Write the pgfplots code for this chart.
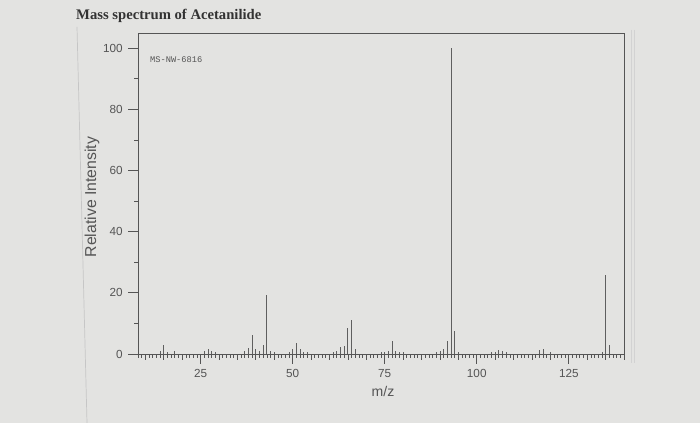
\documentclass[border=0pt]{standalone}
\usepackage{fontspec}
\setmainfont{Liberation Sans}
\newfontfamily\titlefont{Liberation Serif}
\newfontfamily\monofont{Liberation Mono}
\usepackage{pgfplots}
\pgfplotsset{compat=1.18}
\definecolor{bg}{RGB}{227,227,225}
\definecolor{ink}{RGB}{85,85,85}
\definecolor{peak}{RGB}{95,95,95}
\begin{document}
\begin{tikzpicture}
\begin{scope}[x=0.03cm,y=0.03cm]
\fill[bg] (0,0) rectangle (700,423);
\useasboundingbox (0,0) rectangle (700,423);
\draw[gray!45,line width=0.6pt] (77,396) -- (87,0);
\draw[gray!35,line width=0.5pt] (631,393) -- (631,60);
\draw[gray!35,line width=0.5pt] (634,393) -- (634,60);
\end{scope}
\begin{axis}[
  at={(4.14cm,2.07cm)}, anchor=south west,
  scale only axis, width=14.58cm, height=9.63cm,
  xmin=8, xmax=140, ymin=0, ymax=105,
  axis line style={ink, line width=0.8pt},
  every tick/.style={ink, line width=0.6pt},
  tick align=outside,
  xtick={25,50,75,100,125},
  minor xtick={8,...,140},
  extra x ticks={10,15,20,30,35,40,45,55,60,65,70,80,85,90,95,105,110,115,120,130,135,140},
  extra x tick labels={},
  extra x tick style={major tick length=0.18cm},
  ytick={0,20,40,60,80,100},
  minor ytick={10,30,50,70,90},
  major tick length=0.3cm,
  minor tick length=0.12cm,
  xtick pos=bottom, ytick pos=left,
  tick label style={font=\fontsize{10}{12}\selectfont, text=ink},
  /pgf/number format/assume math mode=true,
  xticklabel style={yshift=-1pt},
  yticklabel style={xshift=-1pt},
  axis background/.style={fill=bg},
]
\addplot[ycomb, peak, line width=0.8pt, mark=none] coordinates {
(39,6.2) (43,19.3) (65,8.5) (66,11) (93,100) (94,7.4) (135,25.7)
};
\addplot[ycomb, peak, line width=0.6pt, mark=none] coordinates {
(14,1) (15,3) (16,0.5) (18,1) (26,1) (27,1.5) (28,1) (29,0.5)
(37,1) (38,2) (40,1.5) (41,1) (42,3) (44,1) (45,0.5)
(49,0.5) (50,1.5) (51,3.5) (52,1.5) (53,0.5) (54,0.5)
(61,0.5) (62,1) (63,2.3) (64,2.5) (67,1.5)
(74,0.5) (75,0.5) (76,1) (77,4.2) (78,1) (79,0.5) (80,0.5)
(89,0.5) (90,1) (91,1.5) (92,4.2) (95,0.5)
(104,0.5) (105,0.5) (106,1.2) (107,1) (108,0.5)
(117,1.2) (118,1.5) (120,0.5) (134,0.5) (136,3)
};
\end{axis}
\begin{scope}[x=0.03cm,y=0.03cm]
\node[anchor=west, inner sep=0, text=black!80] at (76,407) {\titlefont\bfseries\fontsize{12.5}{14}\selectfont Mass spectrum of Acetanilide};
\node[anchor=west, inner sep=0, text=ink] at (150,363) {\monofont\fontsize{7.4}{9}\selectfont MS-NW-6816};
\node[rotate=90, inner sep=0, text=ink] at (92,226) {\fontsize{13.5}{15}\selectfont Relative Intensity};
\node[inner sep=0, text=ink] at (383,32) {\fontsize{12}{14}\selectfont m/z};
\end{scope}
\end{tikzpicture}
\end{document}
